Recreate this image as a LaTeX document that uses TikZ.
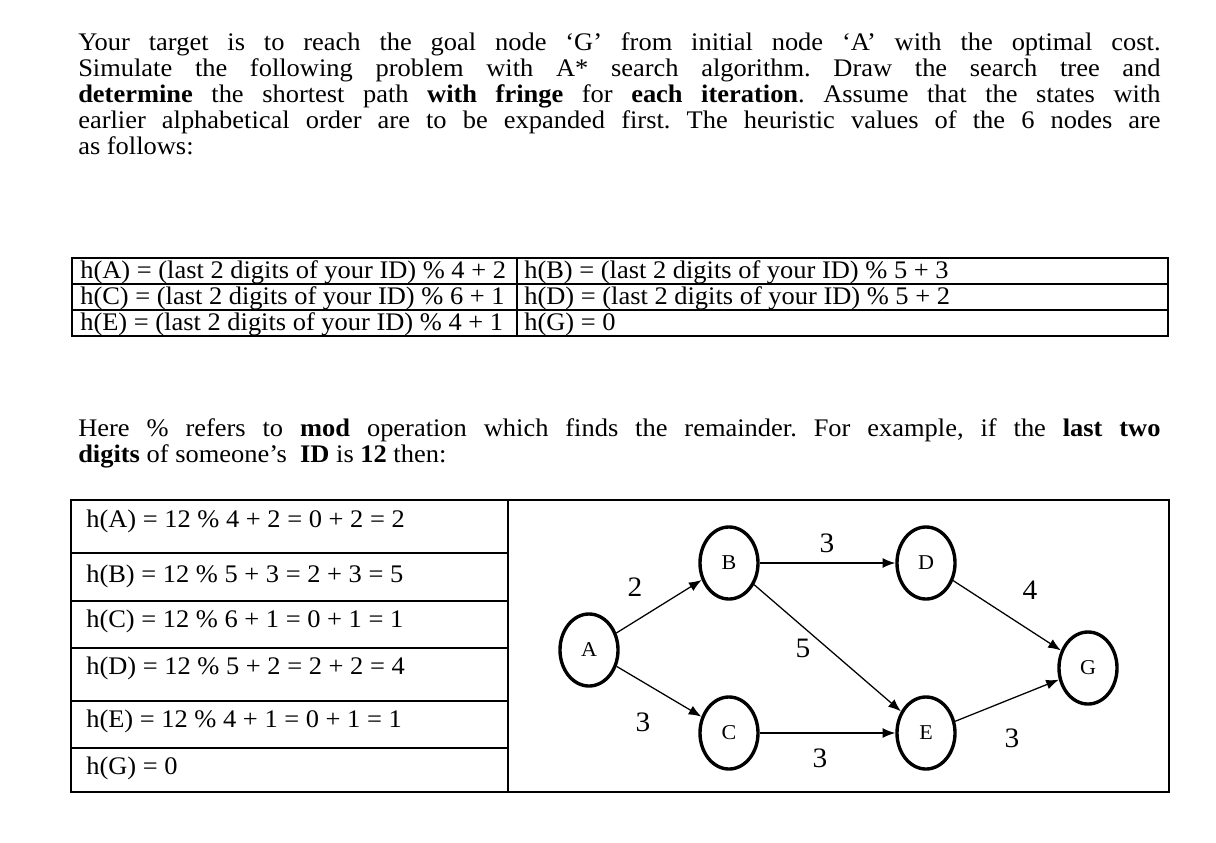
\documentclass[tikz,border=0pt]{standalone}
\usepackage{fontspec}
\setmainfont{Liberation Serif}[FakeStretch=1.045]
\usetikzlibrary{shapes.geometric,arrows.meta}

\newcommand{\jline}[1]{\makebox[27.05cm][s]{#1}}

\begin{document}
\frenchspacing
\fontsize{18}{21}\selectfont
\begin{tikzpicture}[
    x=0.025cm, y=-0.025cm,
    line/.style={anchor=base west, inner sep=0pt},
    cell/.style={anchor=base west, inner sep=0pt},
    grid/.style={draw, line width=1.3pt},
    state/.style={ellipse, draw, line width=2.4pt, minimum width=1.45cm,
        minimum height=1.8cm, inner sep=0pt, font=\fontsize{15}{15}\selectfont},
    arrowstyle/.style={draw, line width=0.9pt, -{Latex[length=9pt,width=7pt]}},
    cost/.style={font=\fontsize{20}{20}\selectfont, inner sep=0pt}
]
\useasboundingbox (0,0) rectangle (1216,842);

% opening paragraph
\node (L1) [line] at (78,50) {\jline{Your target is to reach the goal node `G' from initial node `A' with the optimal cost.}};
\node (L2) [line] at (78,76) {\jline{Simulate the following problem with A* search algorithm. Draw the search tree and}};
\node (L3) [line] at (78,102) {\jline{\textbf{determine} the shortest path \textbf{with fringe} for \textbf{each iteration}. Assume that the states with}};
\node (L4) [line] at (78,128) {\jline{earlier alphabetical order are to be expanded first. The heuristic values of the 6 nodes are}};
\node (L5) [line] at (78,154) {as follows:};

% formula table
\draw[grid] (72,258) rectangle (1168,336);
\draw[grid] (72,284) -- (1168,284);
\draw[grid] (72,310) -- (1168,310);
\draw[grid] (517,258) -- (517,336);
\node (hA) [cell] at (80,278) {h(A) = (last 2 digits of your ID) \% 4 + 2};
\node (hB) [cell] at (524,278) {h(B) = (last 2 digits of your ID) \% 5 + 3};
\node (hC) [cell] at (80,304) {h(C) = (last 2 digits of your ID) \% 6 + 1};
\node (hD) [cell] at (524,304) {h(D) = (last 2 digits of your ID) \% 5 + 2};
\node (hE) [cell] at (80,330) {h(E) = (last 2 digits of your ID) \% 4 + 1};
\node (hG) [cell] at (524,330) {h(G) = 0};

% second paragraph
\node (M1) [line] at (78,436) {\jline{Here \% refers to \textbf{mod} operation which finds the remainder. For example, if the \textbf{last two}}};
\node (M2) [line] at (78,462) {\textbf{digits} of someone's\ \ \textbf{ID} is \textbf{12} then:};

% example table
\draw[grid] (71,500) rectangle (1169,792);
\draw[grid] (508,500) -- (508,792);
\foreach \y in {553,601,648,701,748}
  \draw[grid] (71,\y) -- (508,\y);
\node (eA) [cell] at (86,527) {h(A) = 12 \% 4 + 2 = 0 + 2 = 2};
\node (eB) [cell] at (86,582) {h(B) = 12 \% 5 + 3 = 2 + 3 = 5};
\node (eC) [cell] at (86,627) {h(C) = 12 \% 6 + 1 = 0 + 1 = 1};
\node (eD) [cell] at (86,674) {h(D) = 12 \% 5 + 2 = 2 + 2 = 4};
\node (eE) [cell] at (86,727) {h(E) = 12 \% 4 + 1 = 0 + 1 = 1};
\node (eG) [cell] at (86,774) {h(G) = 0};

% graph
\node (A) [state] at (589,650) {A};
\node (B) [state] at (729,563) {B};
\node (C) [state] at (729,733) {C};
\node (D) [state] at (926,563) {D};
\node (E) [state] at (926,733) {E};
\node (G) [state] at (1088,668) {G};

\draw[arrowstyle] (A) -- (B);
\draw[arrowstyle] (A) -- (C);
\draw[arrowstyle] (B) -- (D);
\draw[arrowstyle] (B) -- (E);
\draw[arrowstyle] (C) -- (E);
\draw[arrowstyle] (D) -- (G);
\draw[arrowstyle] (E) -- (G);

\node (wAB) [cost] at (635,587) {2};
\node (wAC) [cost] at (643,722) {3};
\node (wBD) [cost] at (827,543) {3};
\node (wBE) [cost] at (803,648) {5};
\node (wCE) [cost] at (820,758) {3};
\node (wDG) [cost] at (1030,590) {4};
\node (wEG) [cost] at (1012,738) {3};
\end{tikzpicture}
\end{document}
